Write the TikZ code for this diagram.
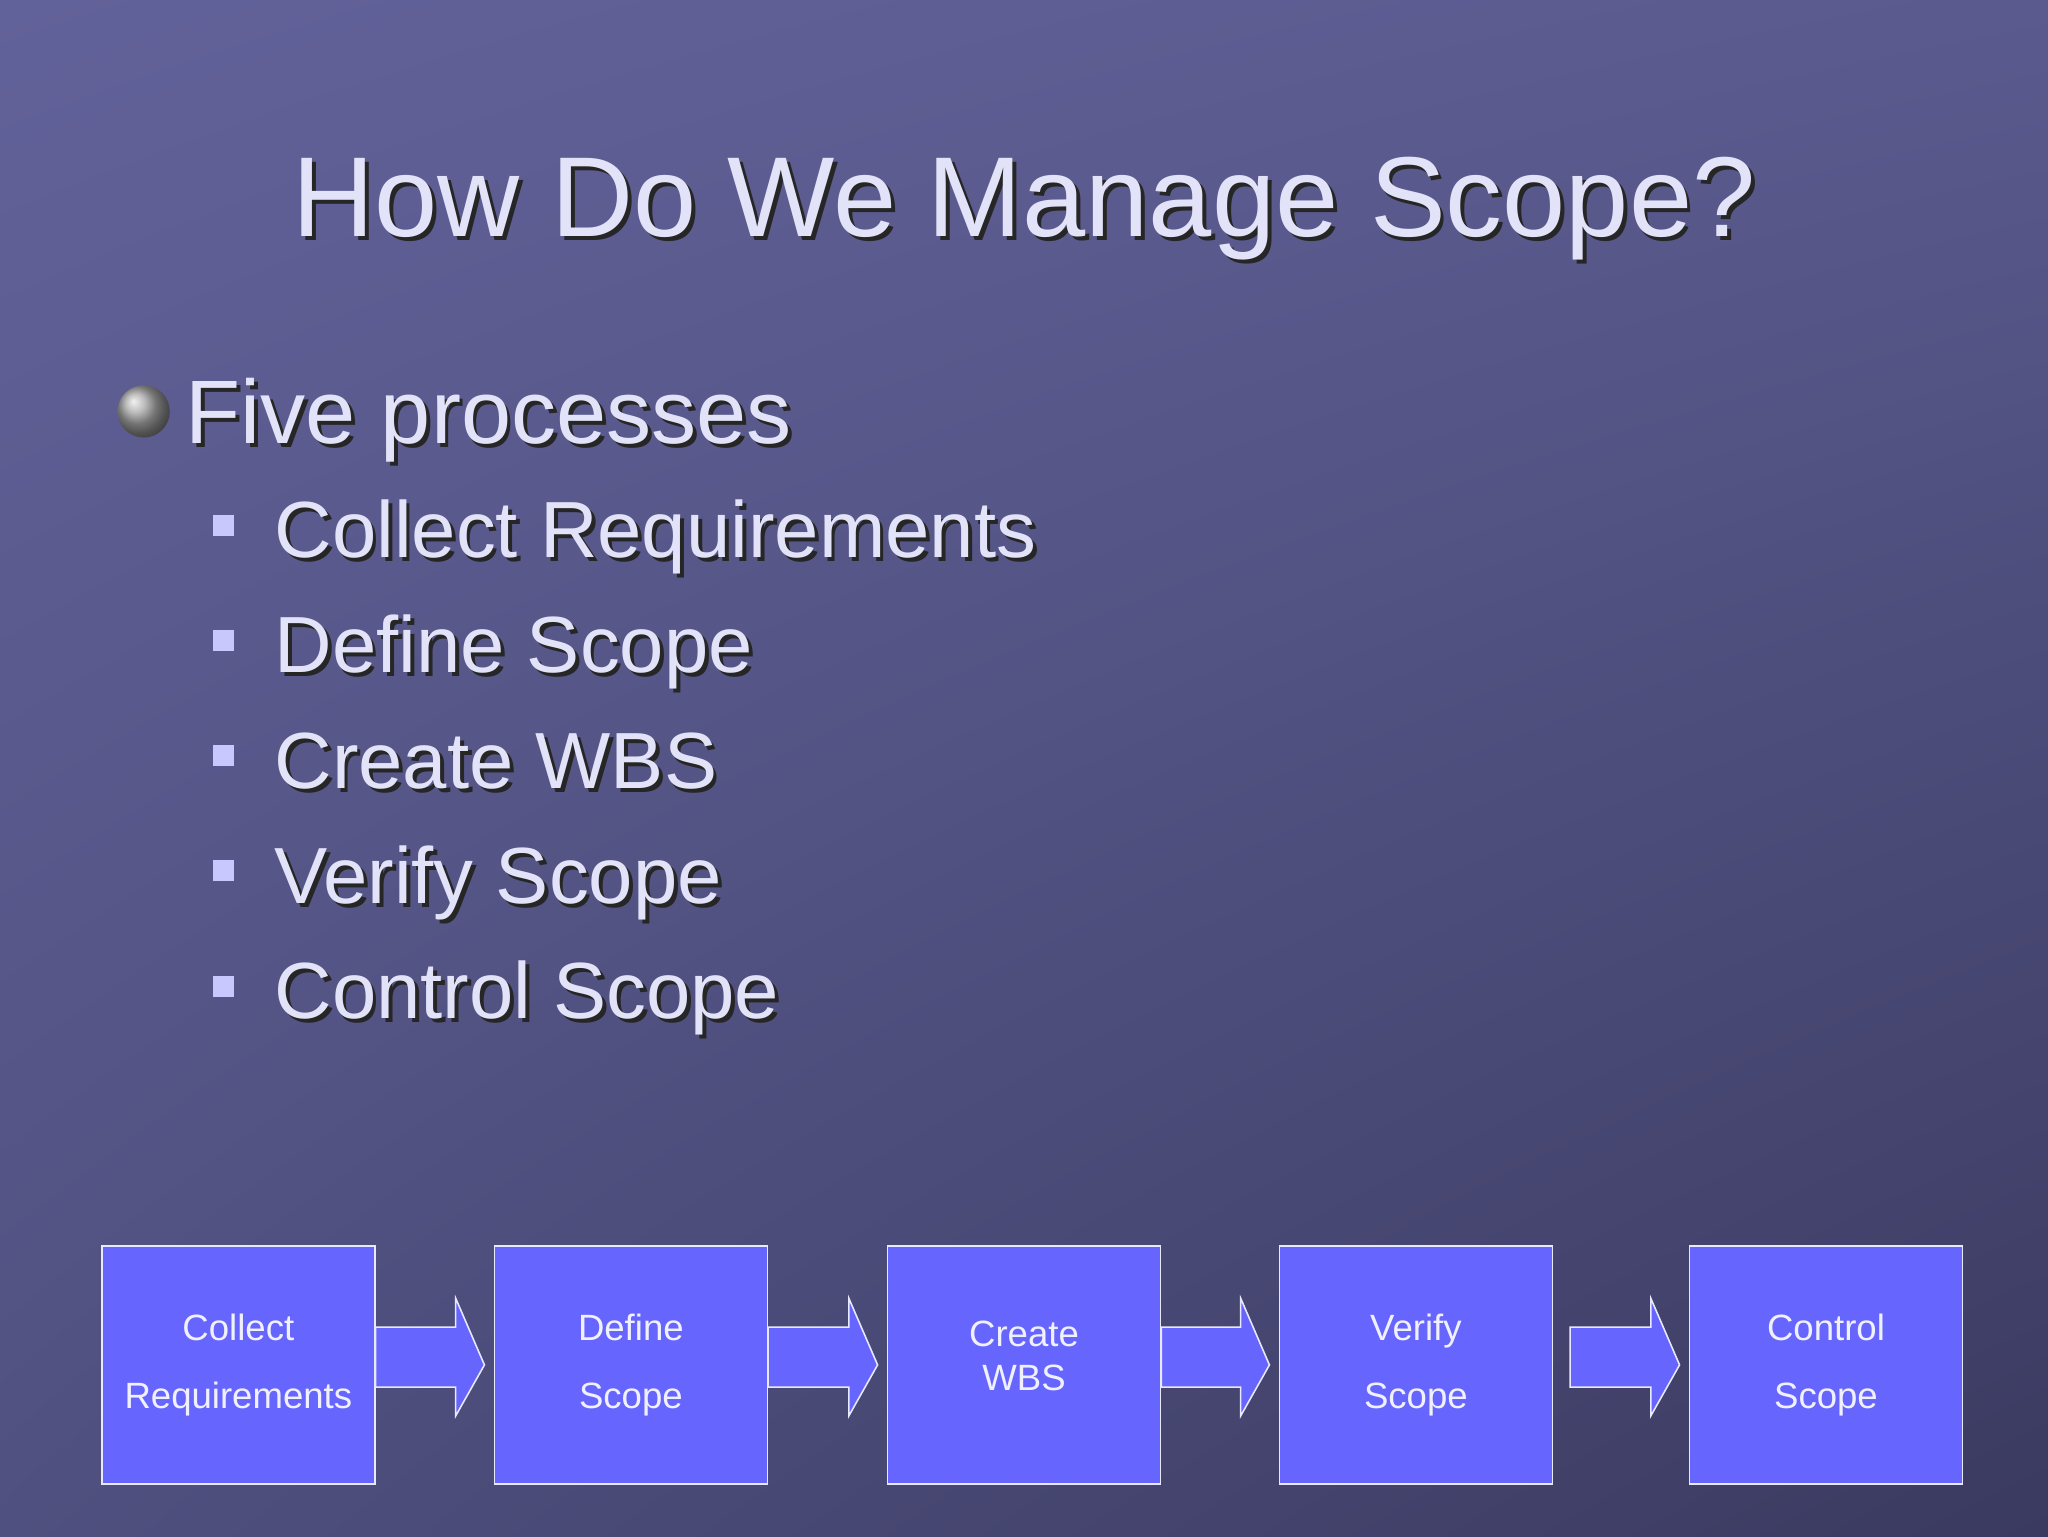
\documentclass[tikz,border=0pt]{standalone}
\usepackage{fontspec}
\setmainfont{Liberation Sans}
\usetikzlibrary{shapes.geometric,shadings}
\definecolor{bgA}{HTML}{62629A}
\definecolor{bgB}{HTML}{3A3A60}
\definecolor{txt}{HTML}{E2E2F8}
\definecolor{boxc}{HTML}{6666FF}
\definecolor{sq}{HTML}{C8C8FF}
\tikzset{
 shadowtxt/.style={anchor=west,text=black!85,inner sep=0pt},
 maintxt/.style={anchor=west,text=txt,inner sep=0pt},
 stepbox/.style={draw=white!85!boxc,line width=1.2pt,fill=boxc,minimum width=209pt,minimum height=182pt,inner sep=0pt,text=white!90!boxc,align=center,font=\fontsize{28}{52}\selectfont},
 blockarrow/.style={draw=white!85!boxc,line width=1.2pt,fill=boxc}
}
\begin{document}
\begin{tikzpicture}[x=1pt,y=-1pt]
\shade[upper left=bgA,upper right=bgA!80!bgB,lower left=bgA!55!bgB,lower right=bgB] (0,0) rectangle (1568,1176);
\useasboundingbox (0,0) rectangle (1568,1176);
% title
\node[text=black!85,inner sep=0pt] at (787,163) {\fontsize{87}{100}\selectfont How Do We Manage Scope?};
\node[text=txt,inner sep=0pt] (title) at (784,160) {\fontsize{87}{100}\selectfont How Do We Manage Scope?};
% main bullet
\shade[ball color=gray!70] (110,315) circle (20);
\node[shadowtxt] at (145,325) {\fontsize{69}{80}\selectfont Five processes};
\node[maintxt] (five) at (142,322) {\fontsize{69}{80}\selectfont Five processes};
\foreach \t [count=\i] in {Collect Requirements,Define Scope,Create WBS,Verify Scope,Control Scope}{
  \pgfmathsetmacro{\yy}{413+88.25*(\i-1)}
  \fill[sq] (163,\yy-19) rectangle (179,\yy-3);
  \node[shadowtxt] at (213,\yy+3) {\fontsize{61}{70}\selectfont \strut\t};
  \node[maintxt] (s\i) at (210,\yy) {\fontsize{61}{70}\selectfont \strut\t};
}
% boxes
\node[stepbox] (b1) at (182.5,1045) {\raisebox{-3pt}{Collect}\\\raisebox{-3pt}{Requirements}};
\node[stepbox] (b2) at (483,1045) {\raisebox{-3pt}{Define}\\\raisebox{-3pt}{Scope}};
\node[stepbox] (b3) at (784,1045) {};
\node[text=white!90!boxc,align=center,font=\fontsize{28}{34}\selectfont] (b3t) at (784,1038) {Create\\WBS};
\node[stepbox] (b4) at (1084,1045) {\raisebox{-3pt}{Verify}\\\raisebox{-3pt}{Scope}};
\node[stepbox] (b5) at (1398,1045) {\raisebox{-3pt}{Control}\\\raisebox{-3pt}{Scope}};
% arrows
\foreach \a/\b/\s in {b1/b2/0,b2/b3/0,b3/b4/0,b4/b5/13}{
  \draw[blockarrow] ([xshift=\s pt]\a.east |- 0,1016) -- ([xshift=-29pt]\b.west |- 0,1016) -- ([xshift=-29pt]\b.west |- 0,994) -- ([xshift=-7pt]\b.west) -- ([xshift=-29pt]\b.west |- 0,1084) -- ([xshift=-29pt]\b.west |- 0,1062) -- ([xshift=\s pt]\a.east |- 0,1062) -- cycle;
}
\end{tikzpicture}
\end{document}
